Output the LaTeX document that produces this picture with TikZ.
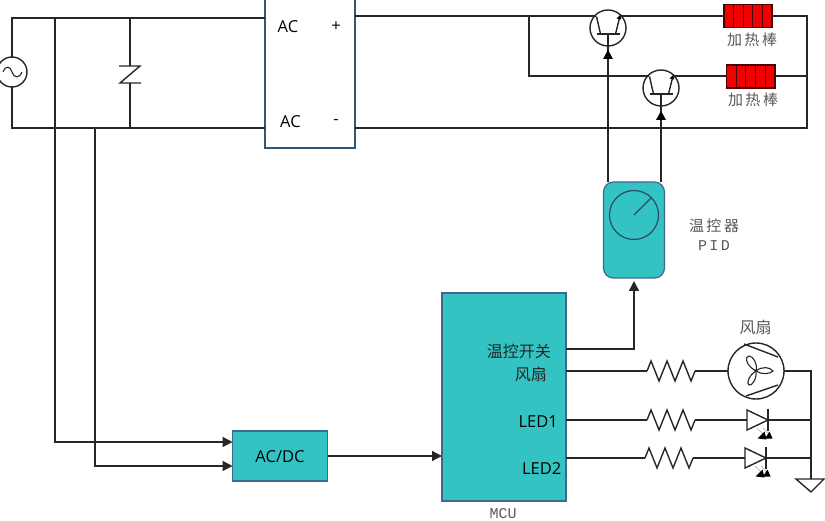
\documentclass[tikz,border=0pt]{standalone}
\usepackage{fontspec}
\setmainfont{Open Sans}
\setmonofont{Liberation Mono}
\newfontfamily\cjk{Noto Sans CJK SC}
\usetikzlibrary{arrows.meta,calc}
\definecolor{teal1}{HTML}{33C3C3}
\definecolor{edge1}{HTML}{3F6A8F}
\definecolor{wire}{HTML}{262626}
\definecolor{lab}{HTML}{595959}
\definecolor{heat}{HTML}{F00000}
\tikzset{
  wireline/.style={draw=wire,line width=1.4pt,line join=miter},
  arrowline/.style={wireline,-{Triangle[length=10pt,width=10pt]}},
  tealbox/.style={draw=edge1,fill=teal1,line width=1.2pt,inner sep=0pt,outer sep=0pt},
  plainbox/.style={draw=edge1!80!black,fill=white,line width=1.2pt,inner sep=0pt,outer sep=0pt},
  roundsym/.style={circle,draw=wire,fill=white,line width=1.4pt,inner sep=0pt,outer sep=0pt},
  intext/.style={font=\fontsize{16.5}{16.5}\selectfont,text=black,inner sep=0pt},
  intextcn/.style={font=\cjk\fontsize{16}{16}\selectfont,text=black!85,inner sep=0pt},
  caption/.style={font=\cjk\fontsize{15}{15}\selectfont,text=lab,inner sep=0pt},
  captionfan/.style={font=\cjk\fontsize{16}{16}\selectfont,text=lab,inner sep=0pt},
  captionmono/.style={font=\ttfamily\fontsize{15}{15}\selectfont,text=lab,inner sep=0pt},
  heatcell/.style={draw=black!70!red,fill=heat,line width=1.1pt},
  pics/resistorsym/.style={code={
    \draw[wireline] (0,0) -- (4,-10) -- (12,10) -- (20,-10) -- (28,10) -- (36,-10) -- (44,10) -- (48,0);
  }},
  pics/transistorsym/.style={code={
    \draw[wireline] (-11.5,6) -- (11.5,6);
    \draw[wireline] (-11.5,-11.5) -- (-7.5,6);
    \draw[wireline] (7.5,6) -- (11.5,-10);
    \fill[black] (13,-14) -- (8.5,-9.5) -- (13,-8.5) -- cycle;
  }},
  pics/ledsym/.style={code={
    \draw[wireline,fill=white] (0,-10) -- (0,10) -- (21,0) -- cycle;
    \draw[wireline] (21,-11) -- (21,11);
    \draw[black!25,line width=.9pt] (10,8) -- (16,14) (16,8) -- (22,14);
    \fill[black] (10.5,18.5) -- (17.5,11.5) -- (19.5,19.5) -- cycle;
    \fill[black] (18,18.5) -- (22.5,11.5) -- (25.5,18.5) -- cycle;
  }},
}
\begin{document}
\begin{tikzpicture}[x=1pt,y=-1pt]
\clip (0,0) rectangle (825,521);
\fill[white] (0,0) rectangle (825,521);

% coordinates of junctions and free ends
\coordinate (tl) at (12,18);
\coordinate (bl) at (12,128);
\coordinate (j55) at (55,18);
\coordinate (j94) at (95,128);
\coordinate (z1) at (130,66);
\coordinate (z2) at (130,83);
\coordinate (j130t) at (130,18);
\coordinate (j130b) at (130,128);
\coordinate (acp) at (355,16);
\coordinate (acm) at (355,128);
\coordinate (tr) at (807,16);
\coordinate (br) at (807,128);
\coordinate (mr) at (807,76);
\coordinate (j529) at (529,16);
\coordinate (j529b) at (529,76);
\coordinate (gnd) at (811,479);
\coordinate (fanr) at (811,371);

% boxes
\node[plainbox,minimum width=90pt,minimum height=150pt] (acbox) at (310,73) {};
\node[tealbox,minimum width=124pt,minimum height=208pt] (mcu) at (504,397) {};
\node[tealbox,minimum width=95pt,minimum height=50pt] (acdc) at (280,456) {};
\node[tealbox,rounded corners=10pt,minimum width=61pt,minimum height=96pt] (ctrl) at (634,230) {};
\node[circle,draw=edge1!70!black,line width=1.2pt,minimum size=49pt,inner sep=0pt] (dial) at (634,215) {};
\draw[edge1!70!black,line width=1.2pt] (dial.center) -- (dial.45);

% symbols
\node[roundsym,minimum size=30pt] (src) at (12,72) {};
\draw[wire,line width=1.1pt] (3,72) .. controls (6,65) and (10,66) .. (12,72) .. controls (14,78) and (19,79) .. (22,72);
\node[roundsym,minimum size=36pt] (t1) at (608,28) {};
\node[roundsym,minimum size=36pt] (t2) at (661,88) {};
\node[roundsym,minimum size=56pt] (fan) at (756,371) {};
\pic at (t1) {transistorsym};
\pic at (t2) {transistorsym};

% heaters
\foreach \i in {0,...,4} {
  \draw[heatcell] ({724+9.6*\i},4.5) rectangle ({724+9.6*(\i+1)},27.5);
  \draw[heatcell] ({726.5+9.7*\i},65) rectangle ({726.5+9.7*(\i+1)},88);
}
\coordinate (h1l) at (724,16); \coordinate (h1r) at (772,16);
\coordinate (h2l) at (726.5,76); \coordinate (h2r) at (775,76);

% mains wiring
\draw[wireline] (src.north) -- (tl) -- (acbox.west |- tl);
\draw[wireline] (src.south) -- (bl) -- (acbox.west |- bl);
\draw[wireline] (acp) -- (596,16);
\draw[wireline] (620,16) -- (h1l);
\draw[wireline] (h1r) -- (tr) -- (br) -- (acm);
\draw[wireline] (j529) -- (j529b) -- (649,76);
\draw[wireline] (673,76) -- (h2l);
\draw[wireline] (h2r) -- (mr);

% zener
\draw[wireline] (j130t) -- (z1);
\draw[wireline] (119,66) -- (140,66) -- (120,83) -- (141,83);
\draw[wireline] (z2) -- (j130b);

% feed of the AC/DC
\draw[arrowline] (j55) -- (55,442) -- (acdc.west |- 0,442);
\draw[arrowline] (j94) -- (95,466) -- (acdc.west |- 0,466);
\draw[arrowline] (acdc.east) -- (mcu.west |- acdc.east);

% controller
\draw[wireline] (t1.center |- ctrl.north) -- ($(t1.center)+(0,6)$);
\draw[wireline] (t2.center |- ctrl.north) -- ($(t2.center)+(0,6)$);
\fill[black] (608,50) -- (613,59) -- (603,59) -- cycle;
\fill[black] (661,111) -- (666,120) -- (656,120) -- cycle;
\draw[arrowline] (mcu.east |- 0,349) -- (634,349) -- (634,281);

% resistors
\pic at (647,371) {resistorsym};
\pic at (647,420) {resistorsym};
\pic at (645,458) {resistorsym};
\coordinate (r1r) at (695,371);
\coordinate (r2r) at (695,420);
\coordinate (r3r) at (693,458);
\draw[wireline] (mcu.east |- r1r) -- (647,371);
\draw[wireline] (mcu.east |- r2r) -- (647,420);
\draw[wireline] (mcu.east |- r3r) -- (645,458);
\draw[wireline] (r1r) -- (fan.west);
\draw[wireline] (fan.east) -- (fanr) -- (gnd);
\draw[wireline] (796,479) -- (824,479) -- (811,492) -- cycle;

% LEDs
\coordinate (l1) at (747,420);
\coordinate (l2) at (745,458);
\draw[wireline] (r2r) -- (l1);
\draw[wireline] (r3r) -- (l2);
\draw[wireline] (768,420) -- (811,420);
\draw[wireline] (766,458) -- (811,458);
\pic at (l1) {ledsym};
\pic at (l2) {ledsym};

% fan inside
\draw[wireline] (744,344) -- (778,357);
\draw[wireline] (746,396) -- (778,385);
\draw[wire,line width=1.1pt] (756,371) .. controls (745,365) and (745,356) .. (749,356) .. controls (753,356) and (758,364) .. (756,371);
\draw[wire,line width=1.1pt] (756,371) .. controls (762,366) and (770,367) .. (773,371) .. controls (770,374) and (762,375) .. (756,371);
\draw[wire,line width=1.1pt] (756,371) .. controls (757,379) and (752,386) .. (749,385) .. controls (746,384) and (749,375) .. (756,371);

% texts
\node[intext] (tac1) at (288,26.5) {AC};
\node[intext] (tac2) at (290.5,121.5) {AC};
\node[intext] (tplus) at (336,26.5) {+};
\node[intext] (tminus) at (336,122) {-};
\node[intext] (tacdc) at (280,456.5) {AC/DC};
\node[intextcn,anchor=east] (ttc) at (551,351) {温控开关};
\node[intextcn,anchor=east] (tfan) at (547,374) {风扇};
\node[intext,anchor=east] (tled1) at (558,421.5) {LED1};
\node[intext,anchor=east] (tled2) at (561.5,468.5) {LED2};
\node[caption] (ch1) at (752,40) {加\,热\,棒};
\node[caption] (ch2) at (753,100) {加\,热\,棒};
\node[captionfan] (cfan) at (755.5,327.5) {风扇};
\node[caption] (cpid) at (714,226) {温\,控\,器};
\node[captionmono] (cpid2) at (714,246) {P\,I\,D};
\node[captionmono] (cmcu) at (503,514) {MCU};
\end{tikzpicture}
\end{document}
